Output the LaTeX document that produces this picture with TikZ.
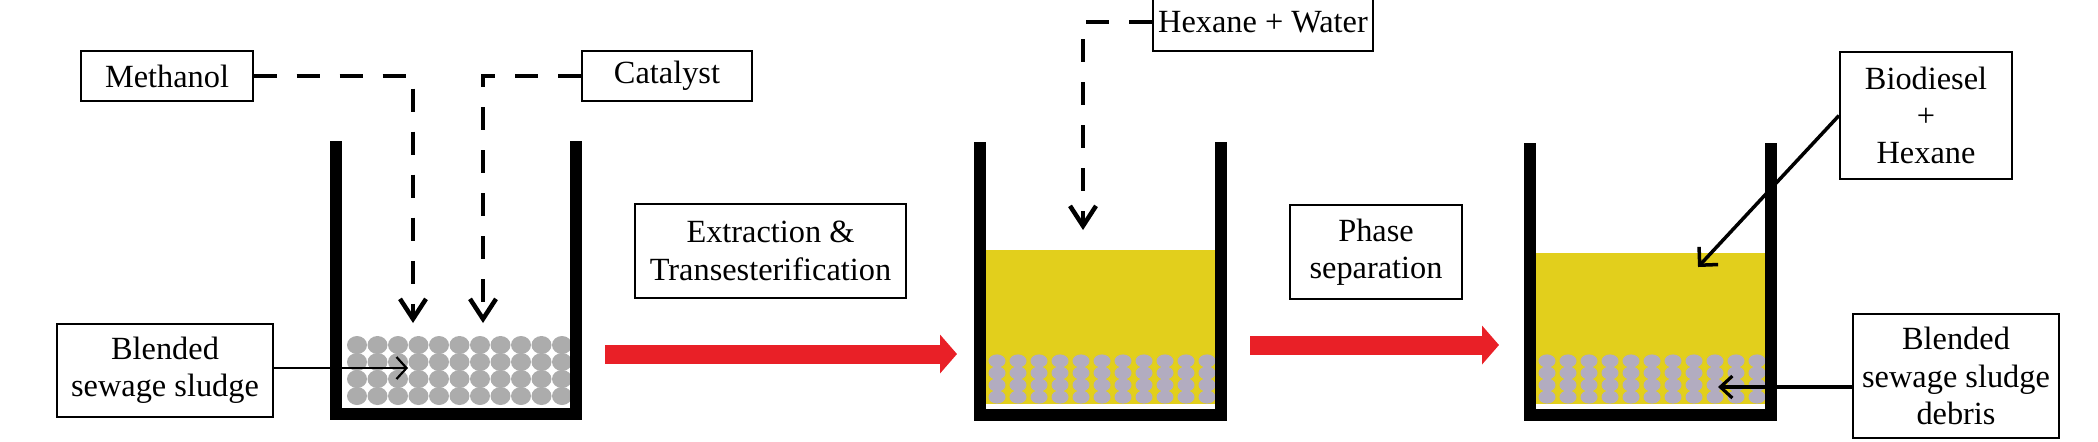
\documentclass[tikz,border=0pt]{standalone}
\usepackage{fontspec}
\setmainfont{Liberation Serif}
\usetikzlibrary{arrows.meta}

\definecolor{oil}{RGB}{226,207,28}
\definecolor{flowred}{RGB}{233,32,39}
\definecolor{grain}{RGB}{172,172,172}
\definecolor{debris}{RGB}{178,172,192}

\tikzset{
	lbl/.style={draw, line width=0.02cm, align=center, inner sep=0pt, font=\fontsize{9.2}{10.6}\selectfont},
	wall/.style={line width=0.12cm, line join=miter},
	feed/.style={line width=0.045cm, dash pattern=on 0.23cm off 0.2cm, -{Straight Barb[length=0.2cm,width=0.26cm]}},
	pointer/.style={line width=0.022cm, -{Straight Barb[length=0.1cm,width=0.22cm]}},
	flowarrow/.style={color=flowred, line width=0.19cm, -{Triangle[length=0.17cm,width=0.38cm]}}
}

\begin{document}
\begin{tikzpicture}[x=0.01cm, y=-0.01cm]
	\useasboundingbox (0,0) rectangle (2098,441);

	%contents
	\fill[oil] (986,250) rectangle (1215,404);
	\fill[oil] (1535,253) rectangle (1765,404);
	\foreach \i in {0,...,10}
		\foreach \j in {0,...,3}
			\fill[grain] (357+20.5*\i, 345+17*\j) ellipse [x radius=0.1cm, y radius=0.09cm];
	\foreach \b in {997,1547}
		\foreach \i in {0,...,10}
			\foreach \j in {0,...,3}
				\fill[debris] (\b+21*\i, 361+12*\j) ellipse [x radius=0.085cm, y radius=0.066cm];

	%beakers
	\draw[wall] (336,141) -- (336,414) -- (576,414) -- (576,141);
	\draw[wall] (980,142) -- (980,414.5) -- (1221,414.5) -- (1221,142);
	\draw[wall] (1530,143) -- (1530,415) -- (1771,415) -- (1771,143);

	%labels
	\node[lbl, minimum width=1.71cm, minimum height=0.5cm] (meth) at (167,76) {Methanol};
	\node[lbl, minimum width=1.70cm, minimum height=0.5cm] (cat) at (667,76) {Catalyst};
	\node[lbl, minimum width=2.20cm, minimum height=0.58cm] (hexw) at (1263,22) {Hexane + Water};
	\node[lbl, minimum width=2.16cm, minimum height=0.93cm] (sludge) at (165,370.5) {Blended\\sewage sludge};
	\node[lbl, minimum width=2.71cm, minimum height=0.94cm] (extr) at (770.5,251) {Extraction \&\\Transesterification};
	\node[lbl, minimum width=1.72cm, minimum height=0.94cm] (phase) at (1376,252) {Phase\\separation};
	\node[lbl, minimum width=1.72cm, minimum height=1.27cm] (bio) at (1926,115.5) {Biodiesel\\+\\Hexane};
	\node[lbl, minimum width=2.06cm, minimum height=1.24cm] (deb) at (1956,376) {Blended\\sewage sludge\\debris};

	%arrow ends
	\coordinate (m1) at (413,323);
	\coordinate (c1) at (483,323);
	\coordinate (h1) at (1083,230);
	\coordinate (s1) at (408,368);
	\coordinate (b1) at (1698,267);
	\coordinate (d1) at (1718,387);
	\coordinate (r1a) at (605,354);
	\coordinate (r1b) at (957,354);
	\coordinate (r2a) at (1250,345);
	\coordinate (r2b) at (1499,345);

	%arrows
	\draw[feed] (meth.east) -| (m1);
	\draw[feed] (cat.west) -| (c1);
	\draw[feed] (hexw.west) -| (h1);
	\draw[pointer] (sludge.east |- s1) -- (s1);
	\draw[pointer, line width=0.035cm, -{Straight Barb[length=0.13cm,width=0.26cm]}] (bio.west) -- (b1);
	\draw[pointer, line width=0.032cm, -{Straight Barb[length=0.12cm,width=0.22cm]}] (deb.west |- d1) -- (d1);
	\draw[flowarrow] (r1a) -- (r1b);
	\draw[flowarrow] (r2a) -- (r2b);
\end{tikzpicture}
\end{document}
